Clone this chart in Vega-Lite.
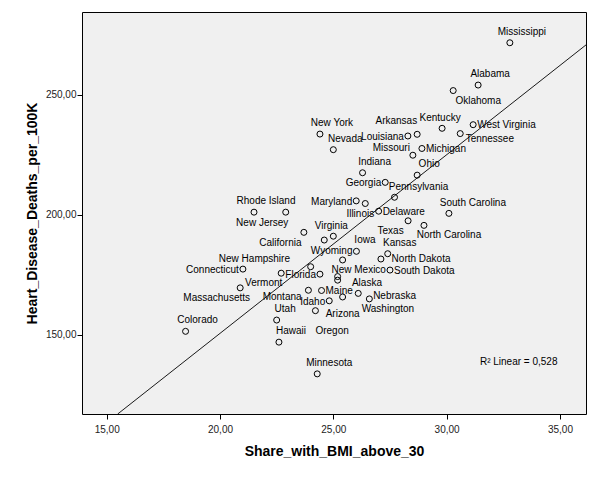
{
  "$schema": "https://vega.github.io/schema/vega-lite/v6.json",
  "description": "Heart disease deaths vs share with BMI above 30, by state",
  "width": 504,
  "height": 402,
  "autosize": "none",
  "padding": {"left": 82, "top": 12, "right": 11, "bottom": 52},
  "background": "#ffffff",
  "datasets": {
    "states": [
      {"state": "Mississippi", "Share_with_BMI_above_30": 32.79, "Heart_Disease_Deaths_per_100K": 271.6},
      {"state": "Alabama", "Share_with_BMI_above_30": 31.39, "Heart_Disease_Deaths_per_100K": 254.0},
      {"state": "Oklahoma", "Share_with_BMI_above_30": 30.29, "Heart_Disease_Deaths_per_100K": 251.7},
      {"state": "West Virginia", "Share_with_BMI_above_30": 31.17, "Heart_Disease_Deaths_per_100K": 237.5},
      {"state": "Tennessee", "Share_with_BMI_above_30": 30.60, "Heart_Disease_Deaths_per_100K": 233.8},
      {"state": "Kentucky", "Share_with_BMI_above_30": 29.80, "Heart_Disease_Deaths_per_100K": 236.0},
      {"state": "Arkansas", "Share_with_BMI_above_30": 28.70, "Heart_Disease_Deaths_per_100K": 233.5},
      {"state": "Louisiana", "Share_with_BMI_above_30": 28.29, "Heart_Disease_Deaths_per_100K": 232.8},
      {"state": "New York", "Share_with_BMI_above_30": 24.41, "Heart_Disease_Deaths_per_100K": 233.6},
      {"state": "Nevada", "Share_with_BMI_above_30": 25.00, "Heart_Disease_Deaths_per_100K": 227.1},
      {"state": "Michigan", "Share_with_BMI_above_30": 28.91, "Heart_Disease_Deaths_per_100K": 227.6},
      {"state": "Missouri", "Share_with_BMI_above_30": 28.51, "Heart_Disease_Deaths_per_100K": 224.8},
      {"state": "Indiana", "Share_with_BMI_above_30": 26.29, "Heart_Disease_Deaths_per_100K": 217.5},
      {"state": "Ohio", "Share_with_BMI_above_30": 28.70, "Heart_Disease_Deaths_per_100K": 216.5},
      {"state": "Georgia", "Share_with_BMI_above_30": 27.29, "Heart_Disease_Deaths_per_100K": 213.5},
      {"state": "Pennsylvania", "Share_with_BMI_above_30": 27.70, "Heart_Disease_Deaths_per_100K": 207.3},
      {"state": "Maryland", "Share_with_BMI_above_30": 26.01, "Heart_Disease_Deaths_per_100K": 205.8},
      {"state": "Illinois", "Share_with_BMI_above_30": 26.41, "Heart_Disease_Deaths_per_100K": 204.7},
      {"state": "Rhode Island", "Share_with_BMI_above_30": 21.50, "Heart_Disease_Deaths_per_100K": 201.1},
      {"state": "New Jersey", "Share_with_BMI_above_30": 22.90, "Heart_Disease_Deaths_per_100K": 201.1},
      {"state": "Delaware", "Share_with_BMI_above_30": 27.00, "Heart_Disease_Deaths_per_100K": 201.5},
      {"state": "South Carolina", "Share_with_BMI_above_30": 30.10, "Heart_Disease_Deaths_per_100K": 200.6},
      {"state": "Texas", "Share_with_BMI_above_30": 28.30, "Heart_Disease_Deaths_per_100K": 197.5},
      {"state": "North Carolina", "Share_with_BMI_above_30": 29.00, "Heart_Disease_Deaths_per_100K": 195.6},
      {"state": "California", "Share_with_BMI_above_30": 23.70, "Heart_Disease_Deaths_per_100K": 192.7},
      {"state": "Virginia", "Share_with_BMI_above_30": 25.00, "Heart_Disease_Deaths_per_100K": 191.1},
      {"state": "Wyoming", "Share_with_BMI_above_30": 24.60, "Heart_Disease_Deaths_per_100K": 189.5},
      {"state": "Iowa", "Share_with_BMI_above_30": 26.02, "Heart_Disease_Deaths_per_100K": 184.8},
      {"state": "New Mexico", "Share_with_BMI_above_30": 25.41, "Heart_Disease_Deaths_per_100K": 181.2},
      {"state": "Kansas", "Share_with_BMI_above_30": 27.40, "Heart_Disease_Deaths_per_100K": 183.8},
      {"state": "North Dakota", "Share_with_BMI_above_30": 27.10, "Heart_Disease_Deaths_per_100K": 181.6},
      {"state": "South Dakota", "Share_with_BMI_above_30": 27.50, "Heart_Disease_Deaths_per_100K": 177.0},
      {"state": "New Hampshire", "Share_with_BMI_above_30": 24.00, "Heart_Disease_Deaths_per_100K": 178.4},
      {"state": "Connecticut", "Share_with_BMI_above_30": 21.01, "Heart_Disease_Deaths_per_100K": 177.4},
      {"state": "Vermont", "Share_with_BMI_above_30": 22.70, "Heart_Disease_Deaths_per_100K": 175.7},
      {"state": "Florida", "Share_with_BMI_above_30": 24.41, "Heart_Disease_Deaths_per_100K": 175.3},
      {"state": "Alaska", "Share_with_BMI_above_30": 25.19, "Heart_Disease_Deaths_per_100K": 174.3},
      {"state": "Wisconsin", "Share_with_BMI_above_30": 25.19, "Heart_Disease_Deaths_per_100K": 172.8},
      {"state": "Massachusetts", "Share_with_BMI_above_30": 20.89, "Heart_Disease_Deaths_per_100K": 169.6},
      {"state": "Montana", "Share_with_BMI_above_30": 23.90, "Heart_Disease_Deaths_per_100K": 168.6},
      {"state": "Maine", "Share_with_BMI_above_30": 24.48, "Heart_Disease_Deaths_per_100K": 168.5},
      {"state": "Arizona", "Share_with_BMI_above_30": 25.41, "Heart_Disease_Deaths_per_100K": 165.8},
      {"state": "Washington", "Share_with_BMI_above_30": 26.10, "Heart_Disease_Deaths_per_100K": 167.3},
      {"state": "Idaho", "Share_with_BMI_above_30": 24.82, "Heart_Disease_Deaths_per_100K": 164.2},
      {"state": "Nebraska", "Share_with_BMI_above_30": 26.59, "Heart_Disease_Deaths_per_100K": 165.0},
      {"state": "Oregon", "Share_with_BMI_above_30": 24.21, "Heart_Disease_Deaths_per_100K": 160.1},
      {"state": "Utah", "Share_with_BMI_above_30": 22.50, "Heart_Disease_Deaths_per_100K": 156.2},
      {"state": "Colorado", "Share_with_BMI_above_30": 18.48, "Heart_Disease_Deaths_per_100K": 151.5},
      {"state": "Hawaii", "Share_with_BMI_above_30": 22.60, "Heart_Disease_Deaths_per_100K": 147.0},
      {"state": "Minnesota", "Share_with_BMI_above_30": 24.29, "Heart_Disease_Deaths_per_100K": 133.8}
    ],
    "fit": [
      {"Share_with_BMI_above_30": 15.485, "Heart_Disease_Deaths_per_100K": 117.1},
      {"Share_with_BMI_above_30": 36.15, "Heart_Disease_Deaths_per_100K": 270.7}
    ],
    "note": [
      {"Share_with_BMI_above_30": 31.47, "Heart_Disease_Deaths_per_100K": 138.9, "text": "R² Linear = 0,528"}
    ]
  },
  "encoding": {
    "x": {
      "field": "Share_with_BMI_above_30",
      "type": "quantitative",
      "scale": {"domain": [13.91, 36.15], "nice": false, "zero": false},
      "axis": {"values": [15, 20, 25, 30, 35], "labelExpr": "replace(format(datum.value, '.2f'), '.', ',')", "labelPadding": 5, "titlePadding": 10}
    },
    "y": {
      "field": "Heart_Disease_Deaths_per_100K",
      "type": "quantitative",
      "scale": {"domain": [117.1, 284.4], "nice": false, "zero": false},
      "axis": {"values": [150, 200, 250], "labelExpr": "replace(format(datum.value, '.2f'), '.', ',')", "labelPadding": 1, "titlePadding": 6}
    }
  },
  "layer": [
    {
      "data": {"name": "fit"},
      "mark": {"type": "line", "color": "#000000", "strokeWidth": 0.9},
      "encoding": {}
    },
    {
      "data": {"name": "states"},
      "mark": {"type": "point", "shape": "circle", "filled": false, "color": "#000000", "size": 36, "strokeWidth": 1, "opacity": 1}
    },
    {
      "data": {"name": "states"},
      "transform": [{"filter": {"field": "state", "oneOf": ["Mississippi", "Alabama", "New York", "Nevada", "Indiana", "Ohio", "Kansas", "Rhode Island", "Colorado", "Hawaii", "Minnesota"]}}],
      "mark": {"type": "text", "align": "center", "baseline": "middle", "dx": 12, "dy": -11, "font": "Liberation Sans", "fontSize": 10, "color": "#000000"},
      "encoding": {"text": {"field": "state"}}
    },
    {
      "data": {"name": "states"},
      "transform": [{"filter": {"field": "state", "oneOf": ["Iowa", "Utah"]}}],
      "mark": {"type": "text", "align": "center", "baseline": "middle", "dx": 8.5, "dy": -11, "font": "Liberation Sans", "fontSize": 10, "color": "#000000"},
      "encoding": {"text": {"field": "state"}}
    },
    {
      "data": {"name": "states"},
      "transform": [{"filter": {"field": "state", "oneOf": ["South Carolina", "Pennsylvania"]}}],
      "mark": {"type": "text", "align": "center", "baseline": "middle", "dx": 24, "dy": -10, "font": "Liberation Sans", "fontSize": 10, "color": "#000000"},
      "encoding": {"text": {"field": "state"}}
    },
    {
      "data": {"name": "states"},
      "transform": [{"filter": {"field": "state", "oneOf": ["Kentucky", "Virginia"]}}],
      "mark": {"type": "text", "align": "center", "baseline": "middle", "dx": -2, "dy": -10.5, "font": "Liberation Sans", "fontSize": 10, "color": "#000000"},
      "encoding": {"text": {"field": "state"}}
    },
    {
      "data": {"name": "states"},
      "transform": [{"filter": {"field": "state", "oneOf": ["West Virginia", "Michigan", "Delaware", "Maine", "South Dakota"]}}],
      "mark": {"type": "text", "align": "left", "baseline": "middle", "dx": 4, "dy": 0.7, "font": "Liberation Sans", "fontSize": 10, "color": "#000000"},
      "encoding": {"text": {"field": "state"}}
    },
    {
      "data": {"name": "states"},
      "transform": [{"filter": {"field": "state", "oneOf": ["Tennessee"]}}],
      "mark": {"type": "text", "align": "left", "baseline": "middle", "dx": 5.4, "dy": 5, "font": "Liberation Sans", "fontSize": 10, "color": "#000000"},
      "encoding": {"text": {"field": "state"}}
    },
    {
      "data": {"name": "states"},
      "transform": [{"filter": {"field": "state", "oneOf": ["Alaska"]}}],
      "mark": {"type": "text", "align": "left", "baseline": "middle", "dx": 14.3, "dy": 6, "font": "Liberation Sans", "fontSize": 10, "color": "#000000"},
      "encoding": {"text": {"field": "state"}}
    },
    {
      "data": {"name": "states"},
      "transform": [{"filter": {"field": "state", "oneOf": ["North Dakota"]}}],
      "mark": {"type": "text", "align": "left", "baseline": "middle", "dx": 10.7, "dy": 0.3, "font": "Liberation Sans", "fontSize": 10, "color": "#000000"},
      "encoding": {"text": {"field": "state"}}
    },
    {
      "data": {"name": "states"},
      "transform": [{"filter": {"field": "state", "oneOf": ["Nebraska"]}}],
      "mark": {"type": "text", "align": "left", "baseline": "middle", "dx": 3.8, "dy": -3, "font": "Liberation Sans", "fontSize": 10, "color": "#000000"},
      "encoding": {"text": {"field": "state"}}
    },
    {
      "data": {"name": "states"},
      "transform": [{"filter": {"field": "state", "oneOf": ["Louisiana", "Georgia", "Maryland", "Connecticut", "Florida", "Idaho"]}}],
      "mark": {"type": "text", "align": "right", "baseline": "middle", "dx": -4, "dy": 1, "font": "Liberation Sans", "fontSize": 10, "color": "#000000"},
      "encoding": {"text": {"field": "state"}}
    },
    {
      "data": {"name": "states"},
      "transform": [{"filter": {"field": "state", "oneOf": ["Montana"]}}],
      "mark": {"type": "text", "align": "right", "baseline": "middle", "dx": -6.8, "dy": 6.4, "font": "Liberation Sans", "fontSize": 10, "color": "#000000"},
      "encoding": {"text": {"field": "state"}}
    },
    {
      "data": {"name": "states"},
      "transform": [{"filter": {"field": "state", "oneOf": ["Missouri"]}}],
      "mark": {"type": "text", "align": "right", "baseline": "middle", "dx": -3, "dy": -7, "font": "Liberation Sans", "fontSize": 10, "color": "#000000"},
      "encoding": {"text": {"field": "state"}}
    },
    {
      "data": {"name": "states"},
      "transform": [{"filter": {"field": "state", "oneOf": ["Arkansas"]}}],
      "mark": {"type": "text", "align": "right", "baseline": "middle", "dx": 0, "dy": -13.3, "font": "Liberation Sans", "fontSize": 10, "color": "#000000"},
      "encoding": {"text": {"field": "state"}}
    },
    {
      "data": {"name": "states"},
      "transform": [{"filter": {"field": "state", "oneOf": ["New Hampshire"]}}],
      "mark": {"type": "text", "align": "right", "baseline": "middle", "dx": -20.7, "dy": -7.4, "font": "Liberation Sans", "fontSize": 10, "color": "#000000"},
      "encoding": {"text": {"field": "state"}}
    },
    {
      "data": {"name": "states"},
      "transform": [{"filter": {"field": "state", "oneOf": ["Oklahoma", "North Carolina"]}}],
      "mark": {"type": "text", "align": "center", "baseline": "middle", "dx": 25, "dy": 10, "font": "Liberation Sans", "fontSize": 10, "color": "#000000"},
      "encoding": {"text": {"field": "state"}}
    },
    {
      "data": {"name": "states"},
      "transform": [{"filter": {"field": "state", "oneOf": ["New Jersey", "Massachusetts", "California"]}}],
      "mark": {"type": "text", "align": "center", "baseline": "middle", "dx": -23.5, "dy": 10.5, "font": "Liberation Sans", "fontSize": 10, "color": "#000000"},
      "encoding": {"text": {"field": "state"}}
    },
    {
      "data": {"name": "states"},
      "transform": [{"filter": {"field": "state", "oneOf": ["Texas", "Vermont"]}}],
      "mark": {"type": "text", "align": "center", "baseline": "middle", "dx": -17.5, "dy": 10.3, "font": "Liberation Sans", "fontSize": 10, "color": "#000000"},
      "encoding": {"text": {"field": "state"}}
    },
    {
      "data": {"name": "states"},
      "transform": [{"filter": {"field": "state", "oneOf": ["Illinois"]}}],
      "mark": {"type": "text", "align": "center", "baseline": "middle", "dx": -5, "dy": 10.5, "font": "Liberation Sans", "fontSize": 10, "color": "#000000"},
      "encoding": {"text": {"field": "state"}}
    },
    {
      "data": {"name": "states"},
      "transform": [{"filter": {"field": "state", "oneOf": ["Wyoming"]}}],
      "mark": {"type": "text", "align": "center", "baseline": "middle", "dx": 7.4, "dy": 10.7, "font": "Liberation Sans", "fontSize": 10, "color": "#000000"},
      "encoding": {"text": {"field": "state"}}
    },
    {
      "data": {"name": "states"},
      "transform": [{"filter": {"field": "state", "oneOf": ["New Mexico"]}}],
      "mark": {"type": "text", "align": "center", "baseline": "middle", "dx": 16.1, "dy": 10, "font": "Liberation Sans", "fontSize": 10, "color": "#000000"},
      "encoding": {"text": {"field": "state"}}
    },
    {
      "data": {"name": "states"},
      "transform": [{"filter": {"field": "state", "oneOf": ["Arizona"]}}],
      "mark": {"type": "text", "align": "center", "baseline": "middle", "dx": 0, "dy": 17.3, "font": "Liberation Sans", "fontSize": 10, "color": "#000000"},
      "encoding": {"text": {"field": "state"}}
    },
    {
      "data": {"name": "states"},
      "transform": [{"filter": {"field": "state", "oneOf": ["Washington"]}}],
      "mark": {"type": "text", "align": "center", "baseline": "middle", "dx": 29.7, "dy": 15.8, "font": "Liberation Sans", "fontSize": 10, "color": "#000000"},
      "encoding": {"text": {"field": "state"}}
    },
    {
      "data": {"name": "states"},
      "transform": [{"filter": {"field": "state", "oneOf": ["Oregon"]}}],
      "mark": {"type": "text", "align": "center", "baseline": "middle", "dx": 16.7, "dy": 20.5, "font": "Liberation Sans", "fontSize": 10, "color": "#000000"},
      "encoding": {"text": {"field": "state"}}
    },
    {
      "data": {"name": "note"},
      "mark": {"type": "text", "align": "left", "baseline": "middle", "font": "Liberation Sans", "fontSize": 10, "color": "#000000"},
      "encoding": {"text": {"field": "text"}}
    }
  ],
  "config": {
    "view": {"fill": "#f0f0f0", "stroke": "#000000", "strokeWidth": 1},
    "axis": {
      "grid": false,
      "domain": false,
      "tickColor": "#000000",
      "tickSize": 5,
      "tickWidth": 1,
      "labelFont": "Liberation Sans",
      "labelFontSize": 10,
      "labelColor": "#222222",
      "titleFont": "Liberation Sans",
      "titleFontSize": 14,
      "titleFontWeight": "bold",
      "titleColor": "#000000"
    }
  }
}
